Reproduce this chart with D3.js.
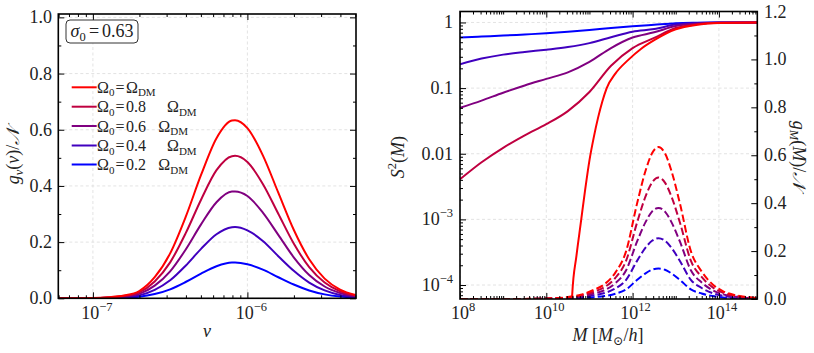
<!DOCTYPE html>
<html><head><meta charset="utf-8">
<script src="https://cdn.jsdelivr.net/npm/d3@7"></script>
<style>
body{margin:0;background:#fff}
svg{display:block}
text{font-family:"Liberation Serif","DejaVu Serif",serif;fill:#222}
</style>
</head><body><svg id="c" width="814" height="353"></svg>
<script>
// ---------------- DATA ----------------
const fractions = [1.0, 0.8, 0.6, 0.4, 0.2];
const legendValues = ["", "0.8", "0.6", "0.4", "0.2"];
const seriesColors = ["#ff0000", "#bf0040", "#800080", "#4000bf", "#0000ff"];
const sigma0 = "0.63";

// left panel: log10(v) grid and g_v(v)/N curves
const logV = [-7.25,-7.2,-7.1,-7.0,-6.9,-6.8,-6.7,-6.6,-6.5,-6.4,-6.3,-6.2,-6.1,-6.08,-6.0,-5.9,-5.8,-5.7,-5.6,-5.5,-5.4,-5.3];
const gv100 = [0,0.0001,0.0003,0.001,0.004,0.010,0.026,0.075,0.160,0.289,0.439,0.570,0.633,0.634,0.606,0.509,0.376,0.244,0.139,0.070,0.031,0.012];
const gv080 = [0,0.0001,0.0002,0.0008,0.0032,0.008,0.021,0.060,0.128,0.231,0.351,0.456,0.506,0.507,0.485,0.407,0.301,0.195,0.111,0.056,0.025,0.0096];
const gv060 = [0,0.0001,0.0002,0.0006,0.0024,0.006,0.0156,0.045,0.096,0.173,0.263,0.342,0.380,0.380,0.364,0.305,0.226,0.146,0.083,0.042,0.019,0.0072];
const gv040 = [0,0,0.0001,0.0004,0.0016,0.004,0.0104,0.030,0.064,0.116,0.176,0.228,0.253,0.254,0.242,0.204,0.150,0.098,0.056,0.028,0.012,0.0048];
const gv020 = [0,0,0.0001,0.0002,0.0008,0.002,0.0052,0.015,0.032,0.058,0.088,0.114,0.127,0.127,0.121,0.102,0.075,0.049,0.028,0.014,0.006,0.0024];

// right panel: dashed g_M(M)/N curves (right axis)
const logMd = [8,9,9.5,10,10.5,10.8,11.1,11.35,11.6,11.85,12.1,12.3,12.45,12.6,12.75,12.9,13.1,13.35,13.6,13.85,14.1,14.4,14.6,14.89];
const gM100 = [0,0,0.0005,0.002,0.008,0.018,0.038,0.062,0.11,0.2,0.396,0.535,0.608,0.634,0.608,0.535,0.396,0.2,0.115,0.062,0.032,0.015,0.009,0.004];
const gM080 = [0,0,0.0004,0.0016,0.0064,0.0144,0.0304,0.0496,0.088,0.16,0.317,0.428,0.486,0.507,0.486,0.428,0.317,0.16,0.092,0.0496,0.0256,0.012,0.0072,0.0032];
const gM060 = [0,0,0.0003,0.0012,0.0048,0.0108,0.0228,0.0372,0.066,0.12,0.238,0.321,0.365,0.380,0.365,0.321,0.238,0.12,0.069,0.0372,0.0192,0.009,0.0054,0.0024];
const gM040 = [0,0,0.0002,0.0008,0.0032,0.0072,0.0152,0.0248,0.044,0.08,0.158,0.214,0.243,0.254,0.243,0.214,0.158,0.08,0.046,0.0248,0.0128,0.006,0.0036,0.0016];
const gM020 = [0,0,0.0001,0.0004,0.0016,0.0036,0.0076,0.0124,0.022,0.04,0.079,0.107,0.122,0.127,0.122,0.107,0.079,0.04,0.023,0.0124,0.0064,0.003,0.0018,0.0008];

// right panel: solid S^2(M) curves, stored as log10(S^2)
const logMs = [8,8.5,9,9.5,10,10.5,11,11.5,12,12.5,13,13.5,14,14.89];
const s2log080 = [-2.39,-2.13,-1.91,-1.72,-1.55,-1.35,-1.06,-0.66,-0.39,-0.235,-0.085,-0.028,-0.006,0];
const s2log060 = [-1.3,-1.19,-1.07,-0.96,-0.86,-0.76,-0.6,-0.39,-0.23,-0.15,-0.055,-0.018,-0.004,0];
const s2log040 = [-0.636,-0.55,-0.49,-0.45,-0.415,-0.375,-0.315,-0.225,-0.14,-0.1,-0.032,-0.01,-0.002,0];
const s2log020 = [-0.231,-0.215,-0.2,-0.183,-0.165,-0.142,-0.115,-0.085,-0.058,-0.035,-0.013,-0.005,-0.001,0];
const logMsRed = [10.55,10.6,10.7,10.8,10.9,11.0,11.1,11.2,11.3,11.4,11.6,11.9,12.2,12.5,13.0,13.5,14.0,14.89];
const s2log100 = [-5,-4.15,-3.55,-3.05,-2.55,-2.1,-1.75,-1.45,-1.2,-1.0,-0.78,-0.57,-0.4,-0.27,-0.105,-0.035,-0.008,0];

// tick labels
const leftYTicks = [0,0.2,0.4,0.6,0.8,1.0];
const leftXTicks = [-7,-6];
const rightXTicks = [8,10,12,14];
const rightLogYTicks = [{e:0,t:"1"},{e:-1,t:"0.1"},{e:-2,t:"0.01"},{e:-3,t:"10",s:"−3"},{e:-4,t:"10",s:"−4"}];
const rightLinTicks = [0,0.2,0.4,0.6,0.8,1.0,1.2];

// ---------------- LAYOUT ----------------
const svg = d3.select("#c");
const L = {x0:58.3, x1:356, y0:14, y1:298.3};
const R = {x0:460, x1:757.3, y0:11.5, y1:299};

const xL = d3.scaleLog().domain([Math.pow(10,-7.224), Math.pow(10,-5.297)]).range([L.x0,L.x1]);
const yL = d3.scaleLinear().domain([0,1.012]).range([L.y1,L.y0]);
const xR = d3.scaleLog().domain([1e8, Math.pow(10,14.89)]).range([R.x0,R.x1]);
const yS = d3.scaleLog().domain([Math.pow(10,-4.213), Math.pow(10,0.167)]).range([R.y1,R.y0]);
const yG = d3.scaleLinear().domain([0,1.2]).range([R.y1,R.y0]);

const defs = svg.append("defs");
defs.append("clipPath").attr("id","clipL").append("rect").attr("x",L.x0).attr("y",L.y0).attr("width",L.x1-L.x0).attr("height",L.y1-L.y0);
defs.append("clipPath").attr("id","clipR").append("rect").attr("x",R.x0).attr("y",R.y0).attr("width",R.x1-R.x0).attr("height",R.y1-R.y0);

const gridStyle = g => g.attr("stroke","#dcdcdc").attr("stroke-width",0.8).attr("stroke-dasharray","3,2.5");

// grids
const gl = svg.append("g").call(gridStyle);
leftXTicks.forEach(e=>gl.append("line").attr("x1",xL(Math.pow(10,e))).attr("x2",xL(Math.pow(10,e))).attr("y1",L.y0).attr("y2",L.y1));
leftYTicks.forEach(v=>gl.append("line").attr("y1",yL(v)).attr("y2",yL(v)).attr("x1",L.x0).attr("x2",L.x1));
const gr = svg.append("g").call(gridStyle);
rightXTicks.forEach(e=>gr.append("line").attr("x1",xR(Math.pow(10,e))).attr("x2",xR(Math.pow(10,e))).attr("y1",R.y0).attr("y2",R.y1));
rightLogYTicks.forEach(d=>gr.append("line").attr("y1",yS(Math.pow(10,d.e))).attr("y2",yS(Math.pow(10,d.e))).attr("x1",R.x0).attr("x2",R.x1));

// ---------------- CURVES ----------------
const gvSeries = [gv100, gv080, gv060, gv040, gv020];
const gMSeries = [gM100, gM080, gM060, gM040, gM020];
const s2Series = [
  {x:logMsRed, y:s2log100},
  {x:logMs, y:s2log080},
  {x:logMs, y:s2log060},
  {x:logMs, y:s2log040},
  {x:logMs, y:s2log020}
];
const order = [4,3,2,1,0]; // red drawn last

const lineL = d3.line().x(d=>xL(Math.pow(10,d[0]))).y(d=>yL(d[1])).curve(d3.curveMonotoneX);
const cl = svg.append("g").attr("clip-path","url(#clipL)");
order.forEach(i=>{
  cl.append("path").attr("d", lineL(logV.map((u,k)=>[u,gvSeries[i][k]])))
    .attr("fill","none").attr("stroke",seriesColors[i]).attr("stroke-width",2);
});

const lineS = d3.line().x(d=>xR(Math.pow(10,d[0]))).y(d=>yS(Math.pow(10,d[1]))).curve(d3.curveMonotoneX);
const lineG = d3.line().x(d=>xR(Math.pow(10,d[0]))).y(d=>yG(d[1])).curve(d3.curveMonotoneX);
const cr = svg.append("g").attr("clip-path","url(#clipR)");
order.forEach(i=>{
  cr.append("path").attr("d", lineG(logMd.map((u,k)=>[u,gMSeries[i][k]])))
    .attr("fill","none").attr("stroke",seriesColors[i]).attr("stroke-width",2).attr("stroke-dasharray","7.4,3.2");
});
order.forEach(i=>{
  const s = s2Series[i];
  cr.append("path").attr("d", lineS(s.x.map((u,k)=>[u,s.y[k]])))
    .attr("fill","none").attr("stroke",seriesColors[i]).attr("stroke-width",2);
});

// ---------------- AXES / TICKS ----------------
function tickAxis(gen, scale, vals, len, transform){
  const g = svg.append("g").attr("transform",transform)
    .call(gen(scale).tickValues(vals).tickSizeInner(-len).tickSizeOuter(0).tickFormat(""));
  g.select(".domain").remove();
  g.selectAll("line").attr("stroke","#000").attr("stroke-width",1);
}
function logMinors(lo, hi, scale){
  const out=[]; const [a,b]=scale.domain();
  for(let e=lo;e<=hi;e++) for(let m=2;m<=9;m++){const v=m*Math.pow(10,e); if(v>=a&&v<=b) out.push(v);}
  return out;
}
// left panel
const lMajX = leftXTicks.map(e=>Math.pow(10,e));
const lMinX = logMinors(-8,-6,xL);
tickAxis(d3.axisBottom, xL, lMajX, 6, `translate(0,${L.y1})`);
tickAxis(d3.axisBottom, xL, lMinX, 3, `translate(0,${L.y1})`);
tickAxis(d3.axisTop, xL, lMajX, 6, `translate(0,${L.y0})`);
tickAxis(d3.axisTop, xL, lMinX, 3, `translate(0,${L.y0})`);
const lMinY = d3.range(0.1,1.01,0.2);
tickAxis(d3.axisLeft, yL, leftYTicks, 6, `translate(${L.x0},0)`);
tickAxis(d3.axisLeft, yL, lMinY, 3, `translate(${L.x0},0)`);
tickAxis(d3.axisRight, yL, leftYTicks, 6, `translate(${L.x1},0)`);
tickAxis(d3.axisRight, yL, lMinY, 3, `translate(${L.x1},0)`);
// right panel
const rMajX = rightXTicks.map(e=>Math.pow(10,e));
const rMinX = logMinors(8,14,xR).concat([1e9,1e11,1e13]);
tickAxis(d3.axisBottom, xR, rMajX, 6, `translate(0,${R.y1})`);
tickAxis(d3.axisBottom, xR, rMinX, 3, `translate(0,${R.y1})`);
tickAxis(d3.axisTop, xR, rMajX, 6, `translate(0,${R.y0})`);
tickAxis(d3.axisTop, xR, rMinX, 3, `translate(0,${R.y0})`);
const rMajY = rightLogYTicks.map(d=>Math.pow(10,d.e));
tickAxis(d3.axisLeft, yS, rMajY, 6, `translate(${R.x0},0)`);
tickAxis(d3.axisLeft, yS, logMinors(-5,0,yS), 3, `translate(${R.x0},0)`);
tickAxis(d3.axisRight, yG, rightLinTicks, 6, `translate(${R.x1},0)`);
tickAxis(d3.axisRight, yG, d3.range(0.1,1.2,0.2), 3, `translate(${R.x1},0)`);

// frames
[L,R].forEach(P=>svg.append("rect").attr("x",P.x0).attr("y",P.y0).attr("width",P.x1-P.x0).attr("height",P.y1-P.y0)
  .attr("fill","none").attr("stroke","#000").attr("stroke-width",1.6));

// ---------------- LABELS ----------------
const FS = 18, SS = 12.5;
function pow10Label(x, y, exp, anchor){
  const t = svg.append("text").attr("x",x).attr("y",y).attr("text-anchor",anchor).attr("font-size",FS);
  t.append("tspan").text("10");
  t.append("tspan").attr("dy",-8).attr("font-size",SS).text(exp);
  return t;
}
leftYTicks.forEach(v=>svg.append("text").attr("x",52).attr("y",yL(v)+6).attr("text-anchor","end").attr("font-size",FS).text(v.toFixed(1)));
leftXTicks.forEach(e=>pow10Label(xL(Math.pow(10,e))+4, 319, "−"+Math.abs(e), "middle"));
rightXTicks.forEach(e=>pow10Label(xR(Math.pow(10,e))+3, 319, String(e), "middle"));
rightLogYTicks.forEach(d=>{
  if(d.s) pow10Label(453, yS(Math.pow(10,d.e))+6, d.s, "end");
  else svg.append("text").attr("x",453).attr("y",yS(Math.pow(10,d.e))+6).attr("text-anchor","end").attr("font-size",FS).text(d.t);
});
rightLinTicks.forEach(v=>svg.append("text").attr("x",764).attr("y",yG(v)+6).attr("font-size",FS).text(v.toFixed(1)));

// axis titles
svg.append("text").attr("x",207).attr("y",337).attr("text-anchor","middle").attr("font-size",FS).attr("font-style","italic").text("v");
{
  const t = svg.append("text").attr("x",608).attr("y",341).attr("text-anchor","middle").attr("font-size",FS);
  t.append("tspan").attr("font-style","italic").text("M");
  t.append("tspan").text("  [");
  t.append("tspan").attr("font-style","italic").text("M");
  t.append("tspan").attr("dy",3.5).attr("font-size",SS).text("⊙");
  t.append("tspan").attr("dy",-3.5).text("/");
  t.append("tspan").attr("font-style","italic").text("h");
  t.append("tspan").text("]");
}
{
  const t = svg.append("text").attr("transform","translate(19,156) rotate(-90)").attr("text-anchor","middle").attr("font-size",FS);
  t.append("tspan").attr("font-style","italic").text("g");
  t.append("tspan").attr("dy",3.5).attr("font-size",SS).attr("font-style","italic").text("v");
  t.append("tspan").attr("dy",-3.5).text("(");
  t.append("tspan").attr("font-style","italic").text("v");
  t.append("tspan").text(")/");
  t.append("tspan").attr("font-style","italic").text("𝒩");
}
{
  const t = svg.append("text").attr("transform","translate(404,157) rotate(-90)").attr("text-anchor","middle").attr("font-size",FS);
  t.append("tspan").attr("font-style","italic").text("S");
  t.append("tspan").attr("dy",-8).attr("font-size",SS).text("2");
  t.append("tspan").attr("dy",8).text("(");
  t.append("tspan").attr("font-style","italic").text("M");
  t.append("tspan").text(")");
}
{
  const t = svg.append("text").attr("transform","translate(793,155) rotate(90)").attr("text-anchor","middle").attr("font-size",FS);
  t.append("tspan").attr("font-style","italic").text("g");
  t.append("tspan").attr("dy",3.5).attr("font-size",SS).attr("font-style","italic").text("M");
  t.append("tspan").attr("dy",-3.5).text("(");
  t.append("tspan").attr("font-style","italic").text("M");
  t.append("tspan").text(")/");
  t.append("tspan").attr("font-style","italic").text("𝒩");
}

// sigma box
svg.append("rect").attr("x",66).attr("y",20).attr("width",72).attr("height",23).attr("rx",4)
  .attr("fill","#fff").attr("stroke","#333").attr("stroke-width",1);
{
  const t = svg.append("text").attr("x",70.5).attr("y",37).attr("font-size",FS);
  t.append("tspan").attr("font-style","italic").text("σ");
  t.append("tspan").attr("dy",3.5).attr("font-size",SS).text("0");
  t.append("tspan").attr("dy",-3.5).attr("x",89).text("=");
  t.append("tspan").attr("x",102).text(sigma0);
}

// legend
const legY = [87.3, 106.7, 126, 145.5, 164.5];
const legOmegaX = [126, 167, 158.3, 167, 158.3];
const LF = 16, LS = 11;
fractions.forEach((f,i)=>{
  const y = legY[i];
  svg.append("line").attr("x1",71.7).attr("x2",96.7).attr("y1",y).attr("y2",y)
    .attr("stroke",seriesColors[i]).attr("stroke-width",2);
  const t = svg.append("text").attr("font-size",LF);
  t.append("tspan").attr("x",97).attr("y",y+5.5).text("Ω");
  t.append("tspan").attr("x",109).attr("y",y+9).attr("font-size",LS).text("0");
  t.append("tspan").attr("x",115.5).attr("y",y+5.5).text("=");
  if(legendValues[i]) t.append("tspan").attr("x",126).attr("y",y+5.5).text(legendValues[i]);
  t.append("tspan").attr("x",legOmegaX[i]).attr("y",y+5.5).text("Ω");
  t.append("tspan").attr("y",y+9).attr("font-size",LS).text("DM");
});
</script></body></html>
